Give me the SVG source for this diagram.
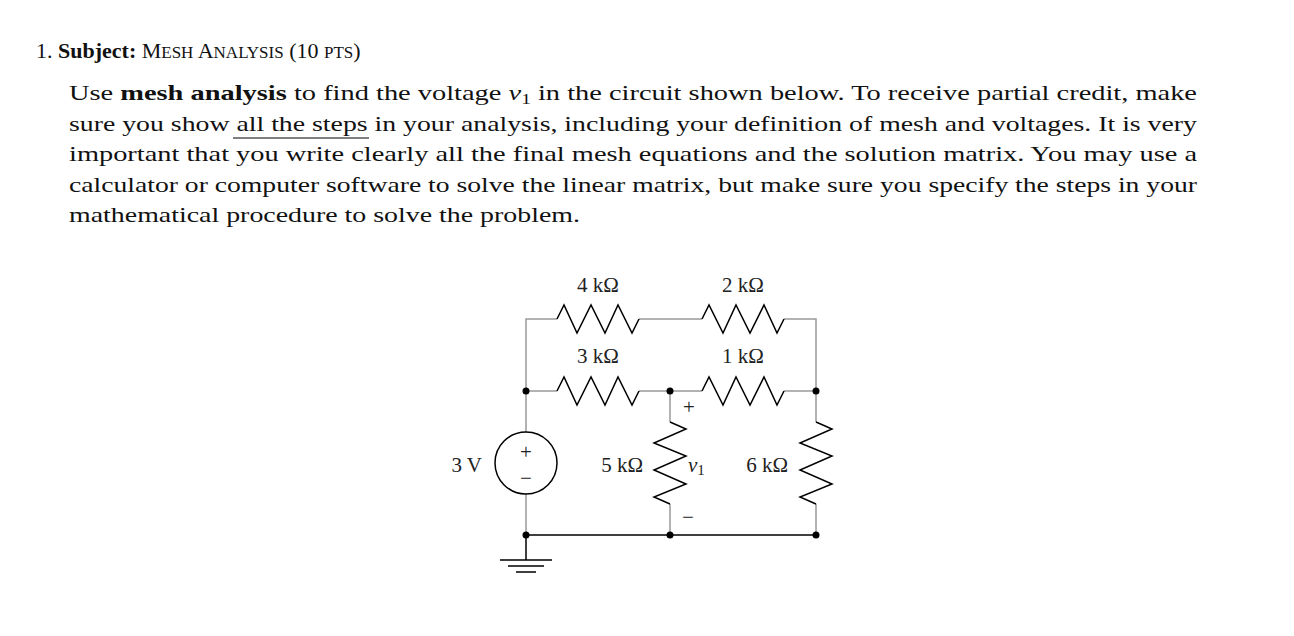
<svg xmlns="http://www.w3.org/2000/svg" width="1294" height="636" viewBox="0 0 1294 636">
<style>
.t{font-family:"Liberation Serif",serif;font-size:22px;fill:#111}
.b{font-weight:bold}
.w{stroke:#999;stroke-width:1.5;fill:none}
.k{stroke:#000;stroke-width:1.5;fill:none}
.r{stroke:#000;stroke-width:1.5;fill:none;stroke-linejoin:miter}
.l{font-family:"Liberation Serif",serif;font-size:21px;fill:#222}
</style>
<rect width="1294" height="636" fill="#fff"/>
<g id="text">
<text class="t" x="36" y="58">1. <tspan class="b">Subject:</tspan> M<tspan font-size="17">ESH</tspan> A<tspan font-size="17">NALYSIS</tspan> (10 <tspan font-size="17">PTS</tspan>)</text>
<text class="t" x="69" y="100" textLength="1128" lengthAdjust="spacingAndGlyphs">Use <tspan class="b">mesh analysis</tspan> to find the voltage <tspan font-style="italic">v</tspan><tspan font-size="15" dy="4">1</tspan><tspan dy="-4"> in the circuit shown below. To receive partial credit, make</tspan></text>
<text class="t" x="69" y="131" textLength="1128" lengthAdjust="spacingAndGlyphs">sure you show all the steps in your analysis, including your definition of mesh and voltages. It is very</text>
<line x1="233" y1="138" x2="369" y2="138" stroke="#000" stroke-width="1.2"/>
<text class="t" x="69" y="161" textLength="1128" lengthAdjust="spacingAndGlyphs">important that you write clearly all the final mesh equations and the solution matrix. You may use a</text>
<text class="t" x="69" y="192" textLength="1128" lengthAdjust="spacingAndGlyphs">calculator or computer software to solve the linear matrix, but make sure you specify the steps in your</text>
<text class="t" x="69" y="222" textLength="511" lengthAdjust="spacingAndGlyphs">mathematical procedure to solve the problem.</text>
</g>
<g id="connectors">
<path class="w" d="M526,432 V319 H557 M639,319 H702 M784,319 H816 V422"/>
<path class="w" d="M526,391 H557 M639,391 H702 M784,391 H816"/>
<path class="w" d="M670,391 V422 M670,504 V535 M816,504 V535 M526,494 V535"/>
<path class="k" d="M526,535 H816 M526,535 V560"/>
<path class="k" d="M500,560 H552 M508,566 H544 M516,572 H536"/>
</g>
<g id="R4k"><path class="r" d="M557,319 L564,305 L577,333 L591,305 L605,333 L618,305 L632,333 L639,319"/><text class="l" x="598" y="292" text-anchor="middle">4 kΩ</text></g>
<g id="R2k"><path class="r" d="M702,319 L709,305 L723,333 L736,305 L750,333 L764,305 L777,333 L784,319"/><text class="l" x="743" y="292" text-anchor="middle">2 kΩ</text></g>
<g id="R3k"><path class="r" d="M557,391 L564,377 L577,405 L591,377 L605,405 L618,377 L632,405 L639,391"/><text class="l" x="598" y="363" text-anchor="middle">3 kΩ</text></g>
<g id="R1k"><path class="r" d="M702,391 L709,377 L723,405 L736,377 L750,405 L764,377 L777,405 L784,391"/><text class="l" x="743" y="363" text-anchor="middle">1 kΩ</text></g>
<g id="R5k"><path class="r" d="M670,422 L686,429 L654,443 L686,456 L654,470 L686,484 L654,497 L670,504"/><text class="l" x="643" y="472" text-anchor="end">5 kΩ</text><text class="l" x="688" y="472" font-style="italic">v<tspan font-size="15" font-style="normal" dy="3">1</tspan></text><text class="l" x="689" y="414" text-anchor="middle">+</text><text class="l" x="688" y="524" text-anchor="middle">−</text></g>
<g id="R6k"><path class="r" d="M816,422 L832,429 L800,443 L832,456 L800,470 L832,484 L800,497 L816,504"/><text class="l" x="788" y="472" text-anchor="end">6 kΩ</text></g>
<g id="V3"><circle cx="526" cy="463" r="31" fill="none" stroke="#000" stroke-width="1.5"/><text class="l" x="526" y="459" text-anchor="middle">+</text><text class="l" x="526" y="485" text-anchor="middle">−</text><text class="l" x="482" y="472" text-anchor="end">3 V</text></g>
<g id="dots" fill="#000"><circle cx="526" cy="391" r="3.5"/><circle cx="670" cy="391" r="3.5"/><circle cx="816" cy="391" r="3.5"/><circle cx="526" cy="535" r="3.5"/><circle cx="670" cy="535" r="3.5"/><circle cx="816" cy="535" r="3.5"/></g>
</svg>
